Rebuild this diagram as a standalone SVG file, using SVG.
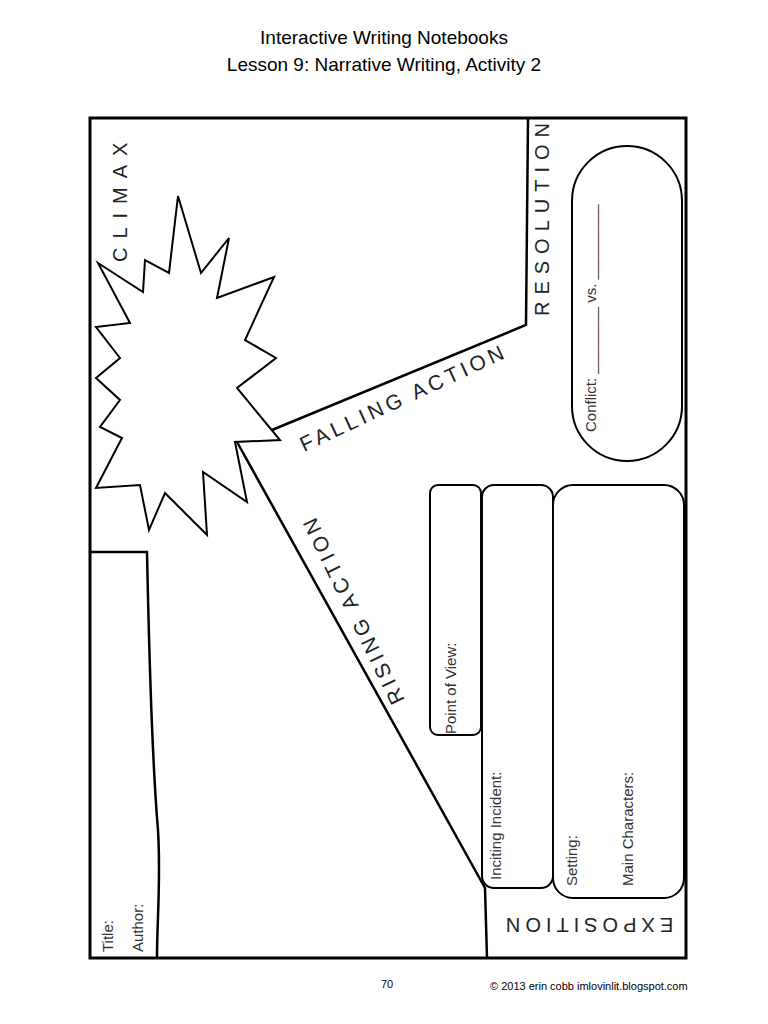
<svg xmlns="http://www.w3.org/2000/svg" width="768" height="1024" viewBox="0 0 768 1024">
<style>
.ln{fill:none;stroke:#000;stroke-width:2.5;stroke-linejoin:miter}
.bx{fill:#fff;stroke:#000;stroke-width:2}
.big{font-family:"Liberation Sans",Arial,sans-serif;font-size:20px;letter-spacing:6px;fill:#222}
.lb{font-family:"Liberation Sans",Arial,sans-serif;font-size:15px;fill:#333}
.hd{font-family:"Liberation Sans",Arial,sans-serif;font-size:19px;fill:#000;text-anchor:middle}
.ft{font-family:"Liberation Sans",Arial,sans-serif;font-size:11px;fill:#000}
</style>
<rect width="768" height="1024" fill="#fff"/>
<text class="hd" x="384" y="44">Interactive Writing Notebooks</text>
<text class="hd" x="384" y="71">Lesson 9: Narrative Writing, Activity 2</text>
<g id="connectors">
<path class="ln" d="M528,119 L526,325 L272,430"/>
<path class="ln" d="M237,442 L485,888 L487,958"/>
<path class="ln" d="M90,552 H147 C149,650 152,760 158,830 C161,880 157,920 157,958"/>
</g>
<g id="frame"><rect x="90" y="118" width="596" height="840" fill="none" stroke="#000" stroke-width="3"/></g>
<g id="climax">
<polygon class="bx" points="98,263 143,292 145,260 169,273 178,196 201,273 229,238 217,298 274,277 245,340 276,358 237,388 280,440 235,442 247,502 203,472 207,535 165,493 149,530 140,485 96,488 122,438 100,427 120,400 96,378 120,358 96,327 130,323"/>
<text class="big" style="letter-spacing:9px" transform="translate(127,262) rotate(-90)">CLIMAX</text>
</g>
<g id="resolution"><text class="big" style="letter-spacing:7px" transform="translate(549,316) rotate(-90)">RESOLUTION</text></g>
<g id="falling"><text class="big" style="letter-spacing:4px;font-size:21px" transform="translate(304,452) rotate(-25)">FALLING ACTION</text></g>
<g id="rising"><text class="big" style="letter-spacing:4px;font-size:21px" transform="translate(405,700) rotate(-116)">RISING ACTION</text></g>
<g id="conflict">
<rect class="bx" x="572" y="146" width="110" height="315" rx="55"/>
<text class="lb" transform="translate(596,432) rotate(-90)">Conflict: ________ vs. _________</text>
</g>
<g id="pov"><rect class="bx" x="430" y="485" width="51" height="250" rx="8"/><text class="lb" transform="translate(456,734) rotate(-90)">Point of View:</text></g>
<g id="inciting"><rect class="bx" x="482" y="485" width="71" height="403" rx="12"/><text class="lb" transform="translate(501,880) rotate(-90)">Inciting Incident:</text></g>
<g id="setting"><rect class="bx" x="553" y="485" width="131" height="413" rx="20"/><text class="lb" transform="translate(577,886) rotate(-90)">Setting:</text><text class="lb" transform="translate(633,886) rotate(-90)">Main Characters:</text></g>
<g id="title"><text class="lb" transform="translate(113,952) rotate(-90)">Title:</text><text class="lb" transform="translate(143,952) rotate(-90)">Author:</text></g>
<g id="exposition"><text class="big" style="letter-spacing:5px" text-anchor="middle" transform="translate(587,918) rotate(180)">EXPOSITION</text></g>
<text class="ft" x="381" y="988" font-size="12">70</text>
<text class="ft" x="490" y="990">© 2013 erin cobb  imlovinlit.blogspot.com</text>
</svg>
